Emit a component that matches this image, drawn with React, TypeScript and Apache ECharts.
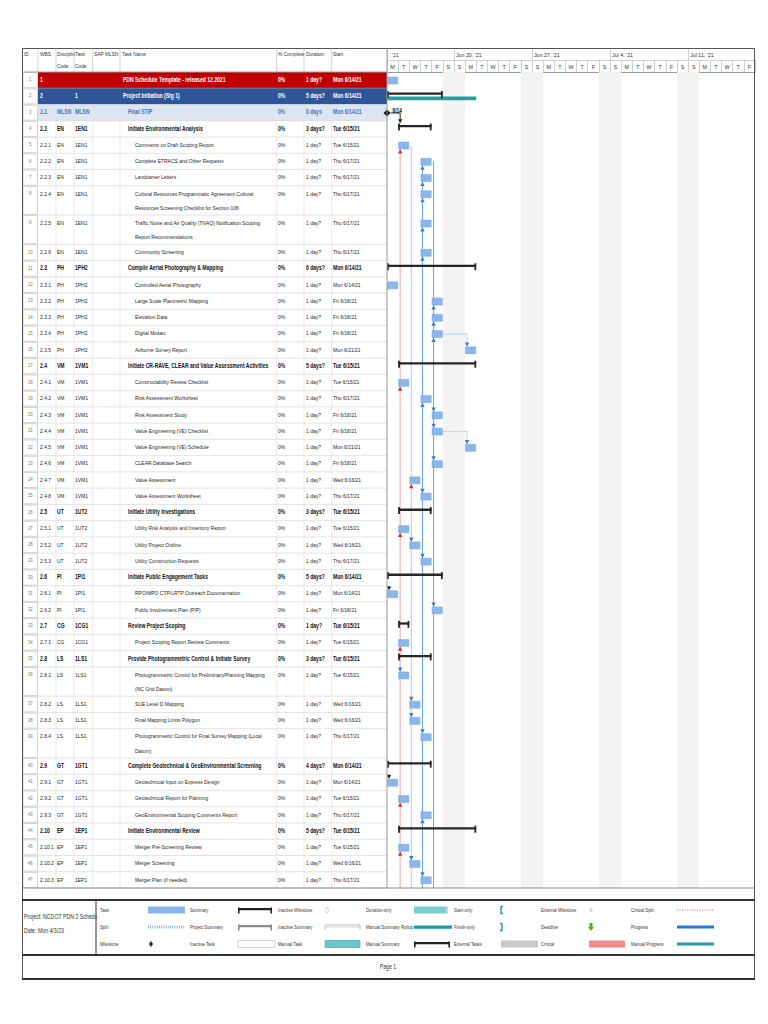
import React, { useEffect, useRef } from "react";
import * as echarts from "echarts";

const FONT = "'Liberation Sans Narrow', 'Arial Narrow', 'Liberation Sans', 'DejaVu Sans Condensed', sans-serif";

// ---------------- DATA ----------------
const ids = ["1","2","3","4","5","6","7","8","9","10","11","12","13","14","15","16","17","18","19","20","21","22","23","24","25","26","27","28","29","30","31","32","33","34","35","36","37","38","39","40","41","42","43","44","45","46","47"];
const wbs = ["1","2","2.1","2.2","2.2.1","2.2.2","2.2.3","2.2.4","2.2.5","2.2.6","2.3","2.3.1","2.3.2","2.3.3","2.3.4","2.3.5","2.4","2.4.1","2.4.2","2.4.3","2.4.4","2.4.5","2.4.6","2.4.7","2.4.8","2.5","2.5.1","2.5.2","2.5.3","2.6","2.6.1","2.6.2","2.7","2.7.1","2.8","2.8.1","2.8.2","2.8.3","2.8.4","2.9","2.9.1","2.9.2","2.9.3","2.10","2.10.1","2.10.2","2.10.3"];
const disciplines = ["","","MLSN","EN","EN","EN","EN","EN","EN","EN","PH","PH","PH","PH","PH","PH","VM","VM","VM","VM","VM","VM","VM","VM","VM","UT","UT","UT","UT","PI","PI","PI","CG","CG","LS","LS","LS","LS","LS","GT","GT","GT","GT","EP","EP","EP","EP"];
const taskCodes = ["","1","MLSN","1EN1","1EN1","1EN1","1EN1","1EN1","1EN1","1EN1","1PH2","1PH2","1PH2","1PH2","1PH2","1PH2","1VM1","1VM1","1VM1","1VM1","1VM1","1VM1","1VM1","1VM1","1VM1","1UT2","1UT2","1UT2","1UT2","1PI1","1PI1","1PI1","1CG1","1CG1","1LS1","1LS1","1LS1","1LS1","1LS1","1GT1","1GT1","1GT1","1GT1","1EP1","1EP1","1EP1","1EP1"];
const taskNames = [
  "PDN Schedule Template - released 12.2021",
  "Project Initiation (Stg 1)",
  "Final STIP",
  "Initiate Environmental Analysis",
  "Comments on Draft Scoping Report",
  "Complete ETRACS and Other Requests",
  "Landowner Letters",
  "Cultural Resources Programmatic Agreement Cultural\nResources Screening Checklist for Section 106",
  "Traffic Noise and Air Quality (TNAQ) Notification Scoping\nReport Recommendations",
  "Community Screening",
  "Compile Aerial Photography & Mapping",
  "Controlled Aerial Photography",
  "Large Scale Planimetric Mapping",
  "Elevation Data",
  "Digital Mosaic",
  "Airborne Survey Report",
  "Initiate CR-RAVE, CLEAR and Value Assessment Activities",
  "Constructability Review Checklist",
  "Risk Assessment Worksheet",
  "Risk Assessment Study",
  "Value Engineering (VE) Checklist",
  "Value Engineering (VE) Schedule",
  "CLEAR Database Search",
  "Value Assessment",
  "Value Assessment Worksheet",
  "Initiate Utility Investigations",
  "Utility Risk Analysis and Inventory Report",
  "Utility Project Outline",
  "Utility Construction Requests",
  "Initiate Public Engagement Tasks",
  "RPO/MPO CTP/LRTP Outreach Documentation",
  "Public Involvement Plan (PIP)",
  "Review Project Scoping",
  "Project Scoping Report Review Comments",
  "Provide Photogrammetric Control & Initiate Survey",
  "Photogrammetric Control for Preliminary/Planning Mapping\n(NC Grid Datum)",
  "SUE Level D Mapping",
  "Final Mapping Limits Polygon",
  "Photogrammetric Control for Final Survey Mapping (Local\nDatum)",
  "Complete Geotechnical & GeoEnvironmental Screening",
  "Geotechnical Input on Express Design",
  "Geotechnical Report for Planning",
  "GeoEnvironmental Scoping Comments Report",
  "Initiate Environmental Review",
  "Merger Pre-Screening Review",
  "Merger Screening",
  "Merger Plan (if needed)",
];
const pctComplete = ["0%","0%","0%","0%","0%","0%","0%","0%","0%","0%","0%","0%","0%","0%","0%","0%","0%","0%","0%","0%","0%","0%","0%","0%","0%","0%","0%","0%","0%","0%","0%","0%","0%","0%","0%","0%","0%","0%","0%","0%","0%","0%","0%","0%","0%","0%","0%"];
const durations = ["1 day?","5 days?","0 days","3 days?","1 day?","1 day?","1 day?","1 day?","1 day?","1 day?","6 days?","1 day?","1 day?","1 day?","1 day?","1 day?","5 days?","1 day?","1 day?","1 day?","1 day?","1 day?","1 day?","1 day?","1 day?","3 days?","1 day?","1 day?","1 day?","5 days?","1 day?","1 day?","1 day?","1 day?","3 days?","1 day?","1 day?","1 day?","1 day?","4 days?","1 day?","1 day?","1 day?","5 days?","1 day?","1 day?","1 day?"];
const starts = ["Mon 6/14/21","Mon 6/14/21","Mon 6/14/21","Tue 6/15/21","Tue 6/15/21","Thu 6/17/21","Thu 6/17/21","Thu 6/17/21","Thu 6/17/21","Thu 6/17/21","Mon 6/14/21","Mon 6/14/21","Fri 6/18/21","Fri 6/18/21","Fri 6/18/21","Mon 6/21/21","Tue 6/15/21","Tue 6/15/21","Thu 6/17/21","Fri 6/18/21","Fri 6/18/21","Mon 6/21/21","Fri 6/18/21","Wed 6/16/21","Thu 6/17/21","Tue 6/15/21","Tue 6/15/21","Wed 6/16/21","Thu 6/17/21","Mon 6/14/21","Mon 6/14/21","Fri 6/18/21","Tue 6/15/21","Tue 6/15/21","Tue 6/15/21","Tue 6/15/21","Wed 6/16/21","Wed 6/16/21","Thu 6/17/21","Mon 6/14/21","Mon 6/14/21","Tue 6/15/21","Thu 6/17/21","Tue 6/15/21","Tue 6/15/21","Wed 6/16/21","Thu 6/17/21"];
const kinds = ["project","phase","milestone","summary","task","task","task","task","task","task","summary","task","task","task","task","task","summary","task","task","task","task","task","task","task","task","summary","task","task","task","summary","task","task","summary","task","summary","task","task","task","task","summary","task","task","task","summary","task","task","task"];

// manual summary rollup (teal bar) on row 2
const rollupRows = [2];
const rollupFinishes = ["Mon 6/21/21"];

// timescale
const dayLetters = ["M","T","W","T","F","S","S","M","T","W","T","F","S","S","M","T","W","T","F","S","S","M","T","W","T","F","S","S","M","T","W","T","F"];
const weekTierDays = [0, 6, 13, 20, 27];
const weekTierLabels = [", '21", "Jun 20, '21", "Jun 27, '21", "Jul 4, '21", "Jul 11, '21"];

// dependency links
const laneDays = [1, 2, 3, 4];
const laneFirstRows = [5, 5, 6, 6];
const arrowUpRows = [5, 6, 7, 8, 9, 10, 13, 14, 15, 18, 19, 24, 27, 34, 42, 43, 45];
const arrowDownRows = [4, 16, 20, 21, 22, 23, 25, 28, 29, 31, 32, 36, 37, 38, 39, 41, 46, 47];
const criticalRows = [5, 18, 24, 27, 34, 42, 45];
const summaryLinkRows = [4, 31, 41];
const hookFrom = [3, 15, 21];
const hookTo = [4, 16, 22];

const projectTitle = "Project: NCDOT PDN 2 Schedu";
const projectDate = "Date: Mon 4/3/23";
const pageLabel = "Page 1";

// ---------------- DERIVED ----------------
const BASE = Date.UTC(2021, 5, 14);
const dayOf = (s: string) => {
  const m = s.match(/(\d+)\/(\d+)\/(\d+)/) as RegExpMatchArray;
  return Math.round((Date.UTC(2000 + Number(m[3]), Number(m[1]) - 1, Number(m[2])) - BASE) / 86400000);
};
const workEnd = (start: number, n: number) => {
  let d = start;
  let left = n;
  while (left > 0) {
    if (((d % 7) + 7) % 7 < 5) left--;
    d++;
  }
  return d;
};
const startDay = starts.map(dayOf);
const endDay = startDay.map((s, i) => workEnd(s, parseInt(durations[i], 10)));
const units = taskNames.map((n) => (n.includes("\n") ? 1.8 : 1));
const yStart: number[] = [];
let acc = 0;
units.forEach((u, i) => {
  yStart[i] = acc;
  acc += u;
});
const TOTAL = acc;
const NDAYS = dayLetters.length;
const weekendDays = dayLetters.map((l, i) => (l === "S" ? i : -1)).filter((i) => i >= 0);
const weekTier: string[] = [];
for (let i = 0; i <= NDAYS; i++) weekTier.push("");
weekTierDays.forEach((d, k) => (weekTier[d] = weekTierLabels[k]));

const SX_N = 0.83; // horizontal condense for regular text
const SX_B = 0.78; // horizontal condense for bold text

const kindStyle: any = {
  project: { bg: "#C00000", fg: "#FFFFFF", weight: "bold", size: 6.5, nameX: 123 },
  phase: { bg: "#2F5597", fg: "#FFFFFF", weight: "bold", size: 6.5, nameX: 123 },
  milestone: { bg: "#DCE6F2", fg: "#4472C4", weight: "bold", size: 6.5, nameX: 128 },
  summary: { bg: null, fg: "#111111", weight: "bold", size: 6.5, nameX: 128 },
  task: { bg: null, fg: "#262626", weight: "normal", size: 6, nameX: 135 },
};

const COLS = [56, 74, 92.7, 120, 276.7, 304, 331.7];

function buildOption() {
  const rows = ids.map((_, i) => i);

  const tableSeries = {
    type: "custom",
    xAxisIndex: 0,
    yAxisIndex: 0,
    silent: true,
    z: 2,
    data: rows.map((i) => [0, yStart[i], units[i], i]),
    renderItem: (params: any, api: any) => {
      const i = api.value(3);
      const y0 = api.coord([0, api.value(1)])[1];
      const y1 = api.coord([0, api.value(1) + api.value(2)])[1];
      const X = (px: number) => api.coord([px - 22, 0])[0];
      const st = kindStyle[kinds[i]];
      const sx = st.weight === "bold" ? SX_B : SX_N;
      const ch: any[] = [];
      if (st.bg) {
        ch.push({ type: "rect", shape: { x: X(38), y: y0, width: X(387) - X(38), height: y1 - y0 }, style: { fill: st.bg } });
      } else {
        COLS.forEach((c) =>
          ch.push({ type: "line", shape: { x1: X(c), y1: y0, x2: X(c), y2: y1 }, style: { stroke: "#DCDCDC", lineWidth: 0.6 } })
        );
      }
      ch.push({ type: "line", shape: { x1: X(38), y1: y1, x2: X(387), y2: y1 }, style: { stroke: "#D2D2D2", lineWidth: 0.6 } });
      ch.push({ type: "rect", shape: { x: X(23), y: y0 + 0.6, width: X(37.5) - X(23), height: y1 - y0 - 1.2 }, style: { fill: "#FFFFFF", stroke: "#B4B4B4", lineWidth: 0.6 } });
      const ty = y0 + 7.6;
      const mk = (s: string, px: number, y: number) => ({
        type: "text",
        x: X(px),
        y,
        scaleX: sx,
        style: { text: s, fill: st.fg, fontSize: st.size, fontWeight: st.weight, fontFamily: FONT, align: "left", verticalAlign: "middle" },
      });
      ch.push({ type: "text", x: X(30.3), y: ty, scaleX: SX_N, style: { text: ids[i], fill: "#7A7A7A", fontSize: 5.2, fontFamily: FONT, align: "center", verticalAlign: "middle" } });
      ch.push(mk(wbs[i], 40, ty));
      ch.push(mk(disciplines[i], 57, ty));
      ch.push(mk(taskCodes[i], 75, ty));
      taskNames[i].split("\n").forEach((ln, k) => ch.push(mk(ln, st.nameX, ty + k * 14.5)));
      ch.push(mk(pctComplete[i], 278, ty));
      ch.push(mk(durations[i], 306, ty));
      ch.push(mk(starts[i], 333, ty));
      return { type: "group", children: ch };
    },
  };

  const weekendSeries = {
    type: "custom",
    xAxisIndex: 1,
    yAxisIndex: 1,
    silent: true,
    z: 1,
    data: weekendDays.map((d) => [d, 0, d + 1, TOTAL]),
    renderItem: (params: any, api: any) => {
      const a = api.coord([api.value(0), api.value(1)]);
      const b = api.coord([api.value(2), api.value(3)]);
      return { type: "rect", shape: { x: a[0], y: a[1], width: b[0] - a[0], height: b[1] - a[1] }, style: { fill: "#F3F3F3" } };
    },
  };

  const laneColors = ["#F2A3A3", "#C2C2EC", "#629EE6", "#629EE6"];
  const laneSeries = {
    type: "custom",
    xAxisIndex: 1,
    yAxisIndex: 1,
    silent: true,
    z: 2,
    data: laneDays.map((d, k) => [d, yStart[laneFirstRows[k] - 1], k]),
    renderItem: (params: any, api: any) => {
      const p = api.coord([api.value(0), api.value(1)]);
      const bottom = api.coord([api.value(0), TOTAL])[1];
      const x = p[0] + 2;
      return { type: "line", shape: { x1: x, y1: p[1] + 8.5, x2: x, y2: bottom }, style: { stroke: laneColors[api.value(2)], lineWidth: 1 } };
    },
  };

  const hookSeries = {
    type: "custom",
    xAxisIndex: 1,
    yAxisIndex: 1,
    silent: true,
    z: 3,
    data: hookFrom.map((f, k) => {
      const a = f - 1;
      const b = hookTo[k] - 1;
      return [endDay[a], yStart[a], startDay[b], yStart[b], kinds[a] === "milestone" ? 1 : 0, kinds[b] === "summary" ? 1 : 0];
    }),
    renderItem: (params: any, api: any) => {
      const p = api.coord([api.value(0), api.value(1)]);
      const q = api.coord([api.value(2), api.value(3)]);
      const isMs = api.value(4) === 1;
      const toSummary = api.value(5) === 1;
      const x0 = isMs ? p[0] + 3.5 : p[0];
      const y0 = p[1] + 8.5;
      const x1 = q[0] + 2;
      const y1 = q[1] + (toSummary ? -1 : 0.5);
      return {
        type: "polyline",
        shape: { points: [[x0, y0], [x1, y0], [x1, y1]] },
        style: { stroke: isMs ? "#222222" : "#BDD1EE", lineWidth: 1, fill: "none" },
      };
    },
  };

  const barSeries = {
    type: "custom",
    xAxisIndex: 1,
    yAxisIndex: 1,
    silent: true,
    z: 4,
    data: rows.map((i) => {
      const r = rollupRows.indexOf(i + 1);
      return [startDay[i], yStart[i], endDay[i], i, r >= 0 ? dayOf(rollupFinishes[r]) + 1 : -1];
    }),
    renderItem: (params: any, api: any) => {
      const i = api.value(3);
      const p0 = api.coord([api.value(0), api.value(1)]);
      const x0 = p0[0];
      const top = p0[1];
      const x1 = api.coord([api.value(2), api.value(1)])[0];
      const k = kinds[i];
      const ch: any[] = [];
      if (k === "task" || k === "project") {
        ch.push({ type: "rect", shape: { x: x0 + 0.4, y: top + 5, width: x1 - x0 - 0.8, height: 7 }, style: { fill: "#8AB6EA", stroke: "#76A4E0", lineWidth: 0.5 } });
      } else if (k === "summary" || k === "phase") {
        const r = api.value(4);
        if (r >= 0) {
          const xr = api.coord([r, api.value(1)])[0];
          ch.push({ type: "rect", shape: { x: x0, y: top + 8.2, width: xr - x0, height: 3.8 }, style: { fill: "#1FA0A9" } });
        }
        const yl = top + 4.2;
        ch.push({ type: "rect", shape: { x: x0, y: yl, width: x1 - x0, height: 2.3 }, style: { fill: "#262626" } });
        ch.push({ type: "rect", shape: { x: x0, y: yl - 1.5, width: 1.8, height: 7 }, style: { fill: "#262626" } });
        ch.push({ type: "rect", shape: { x: x1 - 1.8, y: yl - 1.5, width: 1.8, height: 7 }, style: { fill: "#262626" } });
      } else if (k === "milestone") {
        const cy = top + 8.5;
        ch.push({ type: "polygon", shape: { points: [[x0, cy - 3.5], [x0 + 3.5, cy], [x0, cy + 3.5], [x0 - 3.5, cy]] }, style: { fill: "#111111" } });
        const lbl = starts[i].split(" ")[1].replace(/\/\d+$/, "");
        ch.push({ type: "text", x: x0 + 5.5, y: cy - 2.5, scaleX: SX_B, style: { text: lbl, fill: "#111111", fontSize: 6.3, fontWeight: "bold", fontFamily: FONT, align: "left", verticalAlign: "middle" } });
      }
      return { type: "group", children: ch };
    },
  };

  const arrowData: any[] = [];
  arrowUpRows.forEach((r) => arrowData.push([startDay[r - 1], yStart[r - 1], 1, criticalRows.includes(r) ? 1 : 0, 0]));
  arrowDownRows.forEach((r) =>
    arrowData.push([startDay[r - 1], yStart[r - 1], 0, summaryLinkRows.includes(r) ? 2 : 0, kinds[r - 1] === "summary" ? 1 : 0])
  );
  const arrowColors = ["#2F7ED8", "#E32626", "#222222"];
  const arrowSeries = {
    type: "custom",
    xAxisIndex: 1,
    yAxisIndex: 1,
    silent: true,
    z: 5,
    data: arrowData,
    renderItem: (params: any, api: any) => {
      const p = api.coord([api.value(0), api.value(1)]);
      const x = p[0] + 2;
      const top = p[1];
      const up = api.value(2) === 1;
      const color = arrowColors[api.value(3)];
      let pts;
      if (up) {
        const tip = top + 12.2;
        pts = [[x, tip], [x - 2.2, tip + 4.2], [x + 2.2, tip + 4.2]];
      } else {
        const tip = api.value(4) === 1 ? top + 2.6 : top + 4.8;
        pts = [[x, tip], [x - 2.2, tip - 4.2], [x + 2.2, tip - 4.2]];
      }
      return { type: "polygon", shape: { points: pts }, style: { fill: color } };
    },
  };

  // ---------------- static frame / header / legend ----------------
  const G: any[] = [];
  const line = (x1: number, y1: number, x2: number, y2: number, stroke: string, lw = 1, extra: any = {}) =>
    G.push({ type: "line", silent: true, z: 50, shape: { x1, y1, x2, y2 }, style: { stroke, lineWidth: lw, ...extra } });
  const text = (x: number, y: number, s: string, extra: any = {}, sx = SX_N) =>
    G.push({ type: "text", silent: true, z: 50, x, y, scaleX: sx, style: { text: s, fill: "#333333", fontSize: 5.8, fontFamily: FONT, verticalAlign: "middle", align: "left", ...extra } });
  const rect = (x: number, y: number, w: number, h: number, style: any) =>
    G.push({ type: "rect", silent: true, z: 50, shape: { x, y, width: w, height: h }, style });
  const diamond = (cx: number, cy: number, r: number, style: any) =>
    G.push({ type: "polygon", silent: true, z: 50, shape: { points: [[cx, cy - r], [cx + r * 0.7, cy], [cx, cy + r], [cx - r * 0.7, cy]] }, style });
  const bracket = (x0: number, x1: number, cy: number, color: string, outline = false) => {
    if (outline) {
      G.push({ type: "polyline", silent: true, z: 50, shape: { points: [[x0, cy + 3], [x0, cy - 2], [x1, cy - 2], [x1, cy + 3]] }, style: { stroke: color, lineWidth: 1, fill: "none" } });
      line(x0, cy, x1, cy, color, 0.6);
    } else {
      rect(x0, cy - 2, x1 - x0, 2.2, { fill: color });
      rect(x0, cy - 2.5, 1.6, 6, { fill: color });
      rect(x1 - 1.6, cy - 2.5, 1.6, 6, { fill: color });
    }
  };

  // outer frame
  rect(22.5, 48.5, 732, 930.5, { fill: "none", stroke: "#555555", lineWidth: 1 });
  [38, ...COLS].forEach((c) => line(c, 48.5, c, 72, "#BDBDBD", 0.7));
  line(22, 72, 387, 72, "#9A9A9A", 1);
  line(387, 48.5, 387, 888, "#9A9A9A", 1);
  line(22, 888, 755, 888, "#8A8A8A", 1);
  line(22, 900, 755, 900, "#333333", 2);
  line(22, 955, 755, 955, "#333333", 2);
  line(22, 979, 755, 979, "#333333", 2);
  line(96, 900, 96, 955, "#333333", 1);

  // table header
  text(24, 54, "ID");
  text(40, 54, "WBS");
  text(57, 54, "Disciplin");
  text(57, 66, "Code");
  text(75, 54, "Task");
  text(75, 66, "Code");
  text(94, 54, "SAP MLSN");
  text(122, 54, "Task Name");
  text(278, 54, "% Complete");
  text(306, 54, "Duration");
  text(333, 54, "Start");

  // footer left
  text(24, 917, projectTitle, { fontSize: 6.3 });
  text(24, 931, projectDate, { fontSize: 6.3 });

  // legend
  const ly = [910, 927, 944];
  const lx = [100, 190, 278, 366, 454, 541, 631];
  const labels = [
    ["Task", "Split", "Milestone"],
    ["Summary", "Project Summary", "Inactive Task"],
    ["Inactive Milestone", "Inactive Summary", "Manual Task"],
    ["Duration-only", "Manual Summary Rollup", "Manual Summary"],
    ["Start-only", "Finish-only", "External Tasks"],
    ["External Milestone", "Deadline", "Critical"],
    ["Critical Split", "Progress", "Manual Progress"],
  ];
  labels.forEach((col, c) => col.forEach((s, r) => text(lx[c], ly[r], s, { fontSize: 5.4 }, 0.8)));
  rect(148, ly[0] - 3.5, 37, 7, { fill: "#8AB6EA" });
  line(148, ly[1], 185, ly[1], "#8AB6EA", 3, { lineDash: [1, 1.2] });
  diamond(151, ly[2], 3, { fill: "#333333" });
  bracket(238, 272, ly[0], "#222222");
  bracket(238, 272, ly[1], "#8C8C8C");
  rect(238, ly[2] - 3.5, 37, 7, { fill: "#FFFFFF", stroke: "#C8C8C8", lineWidth: 0.8 });
  diamond(327, ly[0], 3, { fill: "#FFFFFF", stroke: "#C8C8C8", lineWidth: 0.7 });
  bracket(325, 360, ly[1], "#BDBDBD", true);
  rect(325, ly[2] - 3.5, 35, 7, { fill: "#6CC5CC", stroke: "#36A6AF", lineWidth: 0.6 });
  rect(414, ly[0] - 3.5, 34, 7, { fill: "#7ACED4" });
  line(447, ly[0] - 3.5, 447, ly[0] + 3.5, "#FFFFFF", 0.8);
  rect(414, ly[1] - 1.5, 38, 3.2, { fill: "#1F9AA6" });
  bracket(414, 450, ly[2], "#222222");
  G.push({ type: "polyline", silent: true, z: 50, shape: { points: [[503, ly[0] - 3.5], [501, ly[0] - 3.5], [501, ly[0] + 3.5], [503, ly[0] + 3.5]] }, style: { stroke: "#1F9AA6", lineWidth: 1.4, fill: "none" } });
  G.push({ type: "polyline", silent: true, z: 50, shape: { points: [[500, ly[1] - 3.5], [502, ly[1] - 3.5], [502, ly[1] + 3.5], [500, ly[1] + 3.5]] }, style: { stroke: "#1F9AA6", lineWidth: 1.4, fill: "none" } });
  rect(501, ly[2] - 3.5, 37, 7, { fill: "#C8C8C8" });
  diamond(591, ly[0], 3, { fill: "#D9D9D9" });
  G.push({ type: "polygon", silent: true, z: 50, shape: { points: [[589.5, ly[1] - 4], [592.5, ly[1] - 4], [592.5, ly[1]], [594, ly[1]], [591, ly[1] + 4], [588, ly[1]], [589.5, ly[1]]] }, style: { fill: "#5DAA2C" } });
  rect(589, ly[2] - 3.5, 36, 7, { fill: "#F28B8B" });
  line(677, ly[0], 714, ly[0], "#E06666", 1, { lineDash: [1, 1.5] });
  line(677, ly[1], 714, ly[1], "#2E75D0", 3);
  line(677, ly[2], 714, ly[2], "#1F9AA6", 3);

  text(388, 967, pageLabel, { align: "center", fontSize: 6.3 });

  return {
    animation: false,
    textStyle: { fontFamily: FONT },
    grid: [
      { left: 22, top: 72, width: 365, height: 816 },
      { left: 387, top: 72, width: 368, height: 816 },
    ],
    xAxis: [
      { gridIndex: 0, type: "value", min: 0, max: 365, show: false },
      { gridIndex: 1, type: "value", min: 0, max: NDAYS, show: false },
      {
        gridIndex: 1,
        type: "category",
        position: "top",
        data: dayLetters,
        boundaryGap: true,
        axisLine: { show: true, lineStyle: { color: "#9A9A9A", width: 1 } },
        axisTick: { show: true, interval: 0, length: 12, lineStyle: { color: "#C4C4C4", width: 0.8 } },
        axisLabel: { interval: 0, fontSize: 5.3, color: "#333333", margin: 3, fontFamily: FONT },
        splitLine: { show: false },
      },
      {
        gridIndex: 1,
        type: "category",
        position: "top",
        offset: 12,
        data: weekTier,
        boundaryGap: false,
        axisLine: { show: true, lineStyle: { color: "#C4C4C4", width: 0.8 } },
        axisTick: { show: true, interval: (idx: number) => weekTier[idx] !== "", length: 12, lineStyle: { color: "#C4C4C4", width: 0.8 } },
        axisLabel: { interval: 0, align: "left", fontSize: 5.3, color: "#333333", margin: 3, padding: [0, 0, 0, 2], fontFamily: FONT },
        splitLine: { show: false },
      },
    ],
    yAxis: [
      { gridIndex: 0, type: "value", min: 0, max: TOTAL, inverse: true, show: false },
      { gridIndex: 1, type: "value", min: 0, max: TOTAL, inverse: true, show: false },
    ],
    series: [tableSeries, weekendSeries, laneSeries, hookSeries, barSeries, arrowSeries],
    graphic: G,
  };
}

export default function App() {
  const ref = useRef<HTMLDivElement>(null);
  useEffect(() => {
    document.body.style.margin = "0";
    const chart = echarts.init(ref.current as HTMLDivElement, null, { renderer: "svg" });
    chart.setOption(buildOption() as any);
    return () => chart.dispose();
  }, []);
  return <div ref={ref} style={{ width: 768, height: 1024 }} />;
}
